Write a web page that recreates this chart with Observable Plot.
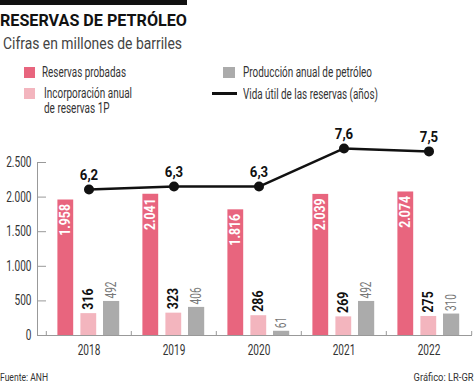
<!DOCTYPE html>
<html><head><meta charset="utf-8">
<script src="https://cdn.jsdelivr.net/npm/d3@7"></script>
<script src="https://cdn.jsdelivr.net/npm/@observablehq/plot@0.6"></script>
<style>
body{margin:0;background:#fff;}
#wrap{position:relative;width:474px;height:383px;overflow:hidden;background:#fff;font-family:Roboto,sans-serif;color:#222;}
.abs{position:absolute;white-space:nowrap;}
</style></head>
<body><div id="wrap"></div>
<script>
// ---- data ----
const years = ["2018", "2019", "2020", "2021", "2022"];
const reservasProbadas = [1958, 2041, 1816, 2039, 2074];
const incorporacion1P = [316, 323, 286, 269, 275];
const produccionAnual = [492, 406, 61, 492, 310];
const vidaUtil = [6.2, 6.3, 6.3, 7.6, 7.5];
const yTicks = [0, 500, 1000, 1500, 2000, 2500];
const seriesNames = ["Reservas probadas", "Incorporación anual\nde reservas 1P", "Producción anual de petróleo", "Vida útil de las reservas (años)"];
const seriesColors = ["#E8657E", "#F3B5BE", "#ABABAB", "#111111"];
const titleText = "RESERVAS DE PETRÓLEO";
const subtitleText = "Cifras en millones de barriles";
const sourceText = "Fuente: ANH";
const creditText = "Gráfico: LR-GR";

const rows = years.map((y, i) => ({year: y, rp: reservasProbadas[i], inc: incorporacion1P[i], prod: produccionAnual[i], vida: vidaUtil[i]}));

const locale = d3.formatLocale({decimal: ",", thousands: ".", grouping: [3], currency: ["$", ""]});
const fmtInt = locale.format(",d");
const fmtDec = locale.format(".1f");
// secondary scale for "vida útil" (years) mapped onto the primary axis
const vidaY = d3.scaleLinear().domain([6, 8]).range([2026, 2872]);

const wrap = document.getElementById("wrap");
function add(html, style) { const d = document.createElement("div"); d.className = "abs"; d.innerHTML = html; Object.assign(d.style, style); wrap.appendChild(d); return d; }
function fit(el, w, origin) {
  el.style.transformOrigin = origin || "left center";
  const m = el.getBoundingClientRect().width;
  el.style.transform = `scaleX(${w / m})`;
}

// header
add("", {left: "0px", top: "0px", width: "187px", height: "5px", background: "#111"});
const tEl = add(titleText, {left: "0px", top: "12px", fontSize: "17px", lineHeight: "17px", fontWeight: "bold", color: "#111"});
const sEl = add(subtitleText, {left: "3px", top: "35px", fontSize: "16px", lineHeight: "17px", color: "#444"});

// legend
const L = {fontSize: "14px", lineHeight: "15px", color: "#333"};
add("", {left: "24px", top: "67px", width: "11px", height: "11px", background: seriesColors[0]});
const l0 = add(seriesNames[0], Object.assign({left: "42px", top: "65px"}, L));
add("", {left: "24px", top: "88px", width: "11px", height: "11px", background: seriesColors[1]});
const l1 = add(seriesNames[1].replace("\n", "<br>"), Object.assign({left: "44px", top: "86px"}, L));
add("", {left: "223px", top: "67px", width: "12px", height: "11px", background: seriesColors[2]});
const l2 = add(seriesNames[2], Object.assign({left: "243px", top: "65px"}, L));
add("", {left: "212px", top: "92px", width: "25px", height: "3px", background: seriesColors[3]});
const l3 = add(seriesNames[3], Object.assign({left: "243px", top: "87px"}, L));

// footer
const f0 = add(sourceText, {left: "0px", top: "371px", fontSize: "11px", lineHeight: "13px", color: "#333"});
const f1 = add(creditText, {right: "0px", top: "371px", fontSize: "11px", lineHeight: "13px", color: "#333"});

fit(tEl, 187); fit(sEl, 179); fit(l0, 84); fit(l1, 88); fit(l2, 129); fit(l3, 135);
fit(f0, 48); fit(f1, 60, "right center");

const BW = (474 - 37 - 2 - 8) / years.length;
const chart = Plot.plot({
  width: 474, height: 244,
  marginTop: 44, marginBottom: 27, marginLeft: 37, marginRight: 2,
  x: {domain: years, padding: 0, insetLeft: 8, label: null},
  y: {domain: [0, 2500], label: null},
  style: {fontFamily: "Roboto, sans-serif", fontSize: "14px", color: "#333", background: "transparent", overflow: "visible"},
  marks: [
    Plot.barY(rows, {x: "year", y: "rp", fill: seriesColors[0], insetLeft: 11.4, insetRight: BW - 27.6}),
    Plot.barY(rows, {x: "year", y: "inc", fill: seriesColors[1], insetLeft: 34.4, insetRight: BW - 50.6}),
    Plot.barY(rows, {x: "year", y: "prod", fill: seriesColors[2], insetLeft: 57, insetRight: BW - 73.6}),
    Plot.text(rows, {x: "year", y: "rp", text: d => fmtInt(d.rp), rotate: -90, textAnchor: "end", dx: -23.2, dy: 4, fill: "#fff", fontWeight: "bold", fontSize: 14}),
    Plot.text(rows, {x: "year", y: "inc", text: d => fmtInt(d.inc), rotate: -90, textAnchor: "start", dx: -0.2, dy: -4, fill: "#111", fontWeight: "bold", fontSize: 14}),
    Plot.text(rows, {x: "year", y: "prod", text: d => fmtInt(d.prod), rotate: -90, textAnchor: "start", dx: 22.6, dy: -3, fill: "#777", fontSize: 14}),
    Plot.ruleY([0], {stroke: "#999", strokeWidth: 1}),
    Plot.frame({anchor: "left", stroke: "#999"}),
    Plot.axisY({ticks: yTicks, tickSize: -9, tickFormat: () => "", stroke: "#999", label: null}),
    Plot.axisY({ticks: yTicks, tickSize: 0, tickPadding: 6, tickFormat: fmtInt, fontSize: 14, fill: "#333", label: null}),
    Plot.axisX({tickSize: 0, tickPadding: 10, fontSize: 14, fill: "#333", label: null}),
    Plot.axisX({tickSize: -4, tickFormat: () => "", dx: -BW / 2, stroke: "#999", label: null}),
    Plot.axisX({ticks: [years[years.length - 1]], tickSize: -4, tickFormat: () => "", dx: BW / 2, stroke: "#999", label: null}),
    Plot.line(rows, {x: "year", y: d => vidaY(d.vida), stroke: seriesColors[3], strokeWidth: 2.5}),
    Plot.dot(rows, {x: "year", y: d => vidaY(d.vida), r: 5, fill: seriesColors[3]}),
    Plot.text(rows, {x: "year", y: d => vidaY(d.vida), text: d => fmtDec(d.vida), dy: -14, fill: "#111", fontWeight: "bold", fontSize: 15})
  ]
});
const holder = add("", {left: "0px", top: "118px"});
holder.appendChild(chart);

// condensed look: squeeze glyphs along the reading direction
chart.querySelectorAll("text").forEach(t => {
  const bold = +getComputedStyle(t).fontWeight >= 600;
  const s = bold ? 0.88 : 0.72;
  let tr = t.getAttribute("transform");
  if (!tr) {
    const x = t.getAttribute("x") || 0, y = t.getAttribute("y") || 0;
    t.removeAttribute("x"); t.removeAttribute("y");
    tr = `translate(${x},${y})`;
  }
  t.setAttribute("transform", tr + ` scale(${s},1)`);
});
</script>
</body></html>
